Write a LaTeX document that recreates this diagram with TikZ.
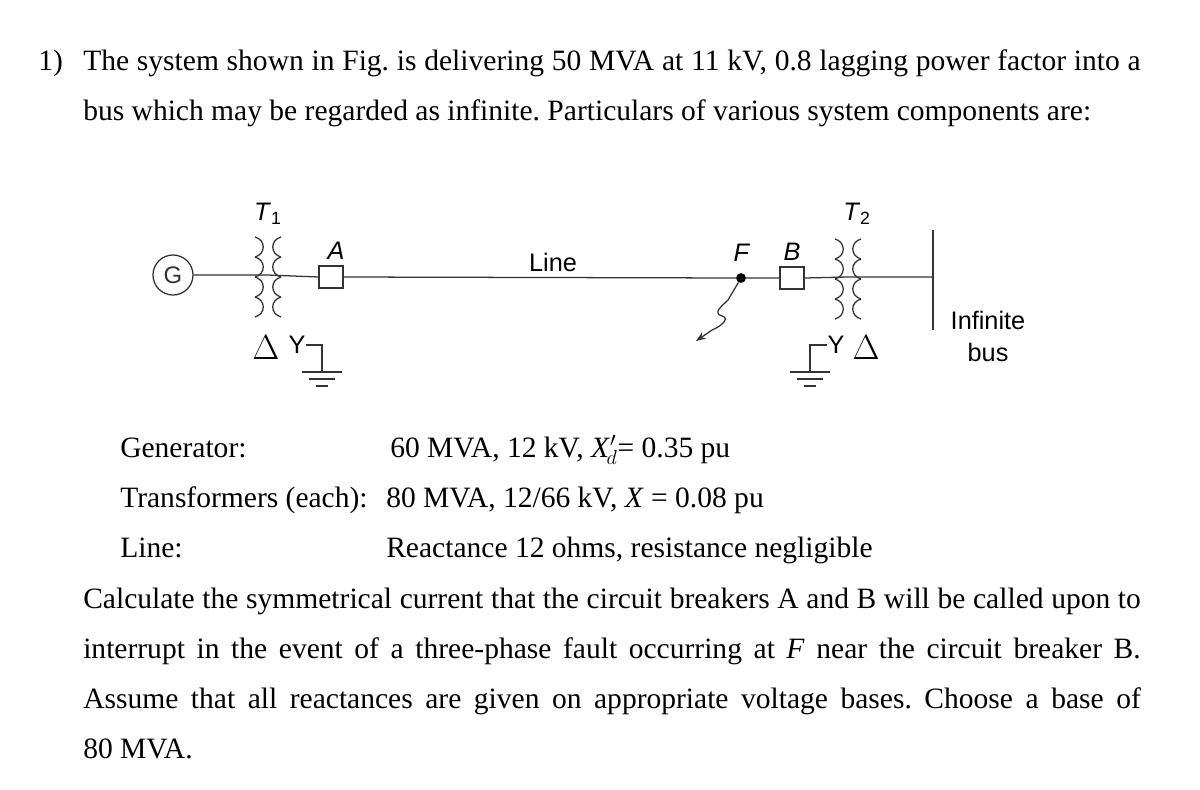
\documentclass[tikz,border=0pt]{standalone}
\usepackage{fontspec}
\setmainfont{Liberation Serif}
\newfontfamily\diagfont{Liberation Sans}
\usetikzlibrary{arrows.meta,positioning,calc}

\begin{document}
\frenchspacing
\begin{tikzpicture}[
    x=0.025cm, y=-0.025cm,
    >=Stealth,
    % 通用樣式
    txt/.style={anchor=base west, inner sep=0pt, font=\fontsize{21}{25}\selectfont},
    lbl/.style={inner sep=0pt, font=\diagfont\fontsize{18}{20}\selectfont},
    wire/.style={line width=0.9pt, black!80},
    breaker/.style={draw, line width=0.9pt, black!80, fill=white, minimum width=0.6cm, minimum height=0.55cm, inner sep=0pt}
]
    \useasboundingbox (0,0) rectangle (1200,789);

    % --- 1. Question text (top) ---
    \node[txt] (num) at (38,70) {1)};
    \node[txt] (l1) at (83,70) {\makebox[26.43cm][s]{The system shown in Fig. is delivering 50 MVA at 11 kV, 0.8 lagging power factor into a}};
    \node[txt] (l2) at (83,120) {bus which may be regarded as infinite. Particulars of various system components are:};

    % --- 2. Single line diagram ---
    \node[draw, circle, wire, minimum size=1.0cm, inner sep=0pt, font=\diagfont\fontsize{17}{18}\selectfont] (gen) at (173,275) {G};
    \coordinate (t1) at (268,275);
    \node[breaker] (brA) at (331,277) {};
    \node[circle, fill=black, inner sep=0pt, minimum size=7pt] (fault) at (741,278) {};
    \node[breaker] (brB) at (792,278) {};
    \coordinate (t2) at (848,277);
    \coordinate (busTop) at (933,230);
    \coordinate (busBot) at (933,330);
    \coordinate (busMid) at (933,277);

    % 連線
    \draw[wire] (gen.east) -- (t1) -- (brA.west);
    \draw[wire] (brA.east) -- (fault) -- (brB.west);
    \draw[wire] (brB.east) -- (t2) -- (busMid);
    \draw[wire] (busTop) -- (busBot);

    % 變壓器線圈
    \foreach \c in {t1,t2}{
        \foreach \k in {0,1,2,3}{
            \draw[wire] ($(\c)+(-13,-38+20*\k)$) .. controls +(11,3) and +(11,-3) .. ($(\c)+(-13,-18+20*\k)$);
            \draw[wire] ($(\c)+(13,-38+20*\k)$) .. controls +(-11,3) and +(-11,-3) .. ($(\c)+(13,-18+20*\k)$);
        }
    }

    % 故障箭頭
    \coordinate (arrowEnd) at (696,341);
    \draw[wire, ->] (fault) -- (728,300) .. controls (722,306) and (712,313) .. (722,316)
        .. controls (730,318) and (722,326) .. (712,330) -- (arrowEnd);

    % 接地 Δ / Y
    \node[lbl, font=\diagfont\fontsize{24}{26}\selectfont] (d1) at (266,348) {$\Delta$};
    \node[lbl] (y1) at (297,345) {Y};
    \coordinate (g1) at (322,372);
    \draw[wire] (y1.east) -- (g1 |- y1.east) -- (g1);
    \draw[wire] ($(g1)+(-20,0)$) -- ($(g1)+(20,0)$);
    \draw[wire] ($(g1)+(-13,7)$) -- ($(g1)+(13,7)$);
    \draw[wire] ($(g1)+(-6,14)$) -- ($(g1)+(6,14)$);

    \node[lbl, font=\diagfont\fontsize{24}{26}\selectfont] (d2) at (866,348) {$\Delta$};
    \node[lbl] (y2) at (836,345) {Y};
    \coordinate (g2) at (810,372);
    \draw[wire] (y2.west) -- (g2 |- y2.west) -- (g2);
    \draw[wire] ($(g2)+(-20,0)$) -- ($(g2)+(20,0)$);
    \draw[wire] ($(g2)+(-13,7)$) -- ($(g2)+(13,7)$);
    \draw[wire] ($(g2)+(-6,14)$) -- ($(g2)+(6,14)$);

    % 標籤
    \node[lbl] (lT1) at (268,214) {\textit{T}\textsubscript{1}};
    \node[lbl] (lT2) at (857,214) {\textit{T}\textsubscript{2}};
    \node[lbl] (lA) at (336,251) {\textit{A}};
    \node[lbl] (lB) at (792,252) {\textit{B}};
    \node[lbl] (lF) at (742,253) {\textit{F}};
    \node[lbl] (lLine) at (553,262) {Line};
    \node[lbl] (lInf) at (988,320) {Infinite};
    \node[lbl] (lBus) at (988,352) {bus};

    % --- 3. Data and question ---
    \node[txt] (gL) at (120,457) {Generator:};
    \node[txt] (gR) at (390,457) {60 MVA, 12 kV, \textit{X}$'_{\!d}$= 0.35 pu};
    \node[txt] (tL) at (120,507) {Transformers (each):};
    \node[txt] (tR) at (386,507) {80 MVA, 12/66 kV, \textit{X} = 0.08 pu};
    \node[txt] (lnL) at (120,557) {Line:};
    \node[txt] (lnR) at (386,557) {Reactance 12 ohms, resistance negligible};
    \node[txt] (q1) at (83,608) {\makebox[26.43cm][s]{Calculate the symmetrical current that the circuit breakers A and B will be called upon to}};
    \node[txt] (q2) at (83,658) {\makebox[26.43cm][s]{interrupt in the event of a three-phase fault occurring at \textit{F} near the circuit breaker B.}};
    \node[txt] (q3) at (83,708) {\makebox[26.43cm][s]{Assume that all reactances are given on appropriate voltage bases. Choose a base of}};
    \node[txt] (q4) at (83,758) {80 MVA.};
\end{tikzpicture}
\end{document}
